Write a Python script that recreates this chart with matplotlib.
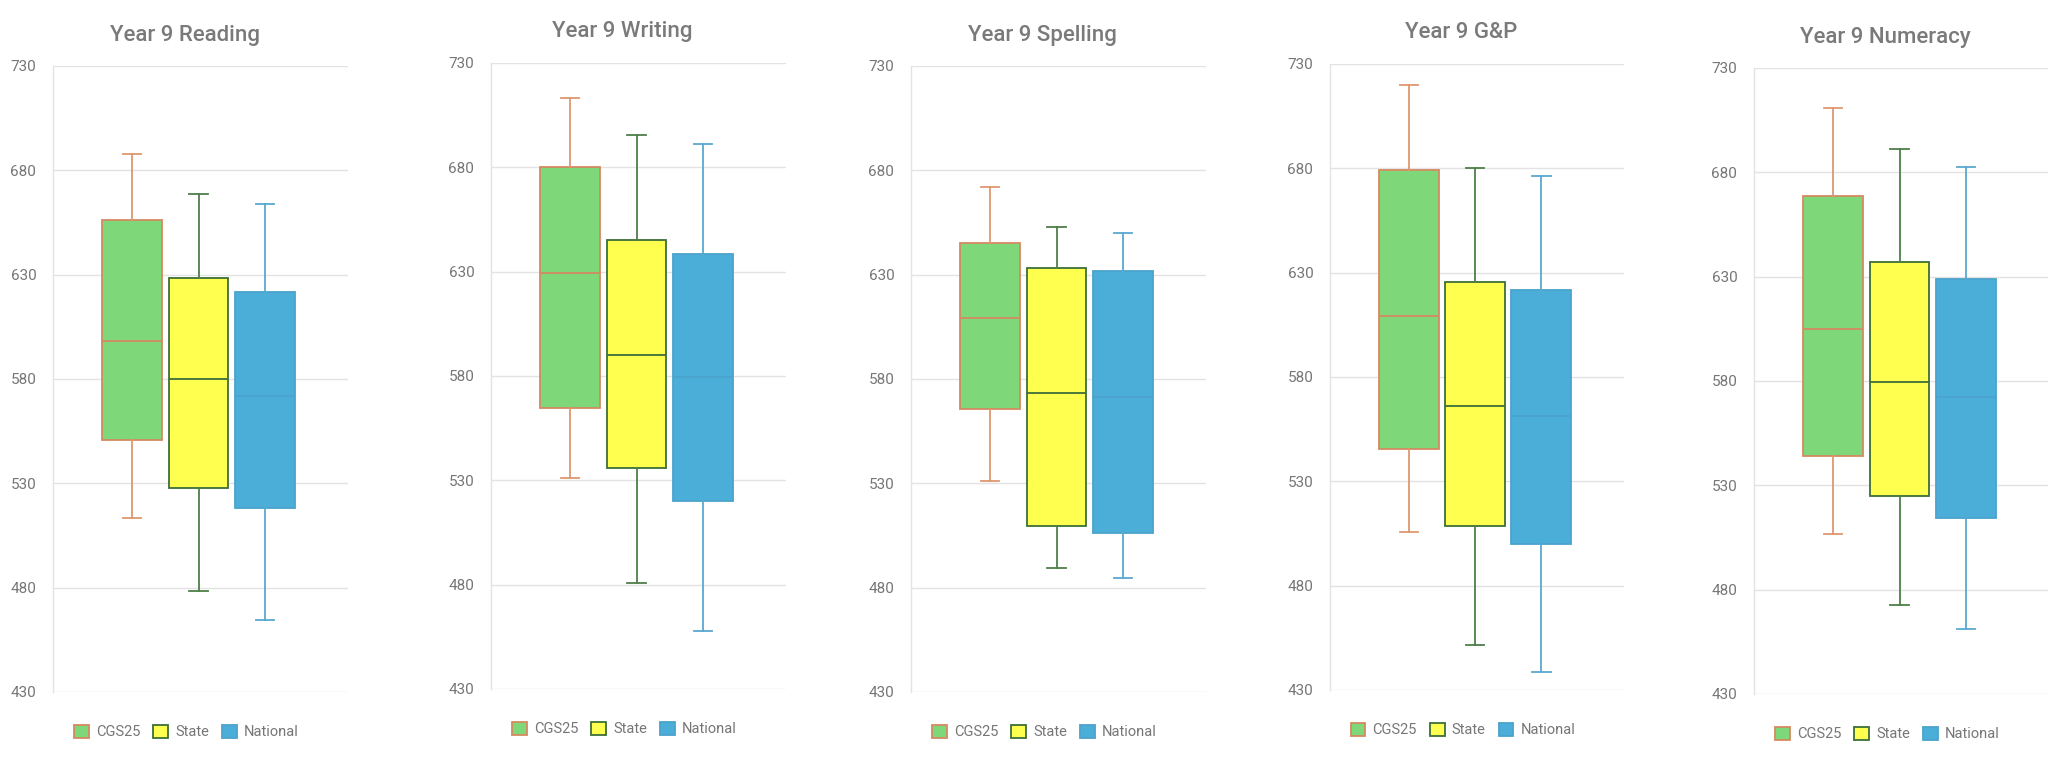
"""
Year 9 score distributions: CGS25 vs State vs National, one box plot per domain
"""

import matplotlib
matplotlib.use('Agg')
import matplotlib.pyplot as plt
from matplotlib.patches import Patch

plt.rcParams['font.family'] = ['Roboto', 'DejaVu Sans']

# five-number summaries: [min, q1, median, q3, max]
subjects = ['Reading', 'Writing', 'Spelling', 'G&P', 'Numeracy']
groups = ['CGS25', 'State', 'National']

reading = [[513.5, 550.8, 598.3, 656.2, 687.8],
           [478.6, 528.0, 579.8, 628.2, 668.5],
           [464.4, 518.0, 571.7, 621.8, 663.8]]
writing = [[531.0, 564.7, 629.5, 680.1, 713.1],
           [480.8, 535.7, 590.1, 645.0, 695.6],
           [458.0, 520.3, 579.6, 638.6, 691.3]]
spelling = [[531.2, 565.6, 609.1, 645.0, 672.0],
            [489.4, 509.6, 573.2, 633.3, 652.8],
            [484.6, 506.0, 571.6, 631.7, 650.2]]
gp = [[505.9, 545.3, 609.0, 679.4, 719.8],
      [451.4, 508.5, 566.2, 625.7, 680.1],
      [438.8, 500.1, 561.2, 621.6, 676.3]]
numeracy = [[506.7, 544.0, 605.1, 668.5, 710.8],
            [472.5, 524.8, 579.6, 636.9, 691.3],
            [461.0, 514.3, 572.5, 629.0, 682.7]]

y_ticks = [430, 480, 530, 580, 630, 680, 730]

fills = ['#7ED87A', '#FFFF4F', '#4AAED9']
edges = ['#D48A60', '#3D6E38', '#4AA3CC']
whisker_cols = ['#DE9770', '#4E7F49', '#5AA8D0']

W, H = 2048, 773
# axes boxes in pixels: left, right, top, bottom
ax_px = [(53, 348, 66, 692),
         (491, 786, 63, 689),
         (911, 1206, 66, 692),
         (1330, 1624, 64, 690),
         (1754, 2049, 68, 694)]
title_y = [35, 32, 35, 33, 37]

TEXT = '#767676'
GRID = '#E3E3E3'

fig = plt.figure(figsize=(W / 100, H / 100), dpi=100)

for i, (name, summ) in enumerate(zip(subjects, [reading, writing, spelling, gp, numeracy])):
    l, r, t, b = ax_px[i]
    ax = fig.add_axes([l / W, 1 - b / H, (r - l) / W, (b - t) / H])

    for j, s in enumerate(summ):
        stats = [{'whislo': s[0], 'q1': s[1], 'med': s[2], 'q3': s[3],
                  'whishi': s[4], 'fliers': []}]
        ax.bxp(stats, positions=[j], widths=0.9, patch_artist=True,
               showfliers=False,
               boxprops=dict(facecolor=fills[j], edgecolor=edges[j], linewidth=1.3),
               medianprops=dict(color=edges[j], linewidth=1.3),
               whiskerprops=dict(color=whisker_cols[j], linewidth=1.3),
               capprops=dict(color=whisker_cols[j], linewidth=1.3),
               capwidths=0.28)

    ax.set_xlim(-1.19, 3.25)
    ax.set_ylim(430, 730)
    ax.set_yticks(y_ticks)
    ax.set_xticks([])
    ax.grid(axis='y', color=GRID, linewidth=1.0)
    ax.set_axisbelow(True)
    for sp in ['top', 'right', 'bottom']:
        ax.spines[sp].set_visible(False)
    ax.spines['left'].set_color(GRID)
    ax.spines['left'].set_linewidth(1.0)
    ax.tick_params(axis='y', length=0, pad=12, labelsize=11, labelcolor=TEXT)

    cx = (l + r) / 2 - 16
    fig.text(cx / W, 1 - title_y[i] / H, f'Year 9 {name}', ha='center', va='center',
             fontsize=16, fontweight='medium', color='#7A7A7A')

    handles = [Patch(facecolor=fills[k], edgecolor=edges[k], linewidth=1.3, label=groups[k])
               for k in range(3)]
    fig.legend(handles=handles, loc='center', ncol=3, frameon=False,
               bbox_to_anchor=((cx + 2) / W, 1 - (b + 40) / H),
               fontsize=10.5, labelcolor=TEXT, handlelength=1.0, handleheight=1.0,
               handletextpad=0.5, columnspacing=0.9)

fig.savefig('out.png', dpi=100)
